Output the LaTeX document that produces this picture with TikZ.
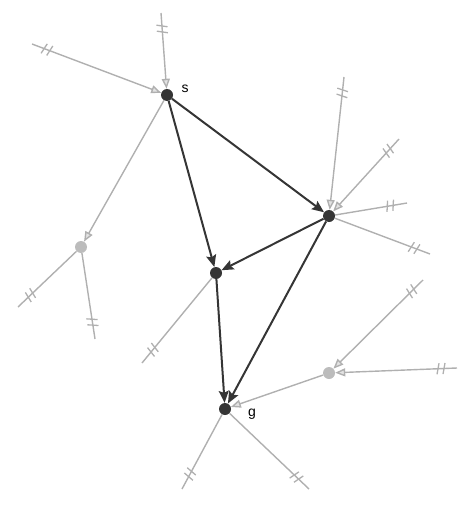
\documentclass[tikz,border=0pt]{standalone}
\usepackage{fontspec}
\setsansfont{Liberation Sans}
\usetikzlibrary{arrows.meta,decorations.markings}
\definecolor{darkgr}{HTML}{353535}
\definecolor{lightgr}{HTML}{B0B0B0}
\tikzset{
  tick/.style={draw=lightgr,line width=1.3pt,-},
  cut start/.style={postaction={decorate},decoration={markings,
    mark=at position 13pt with {\draw[tick] (-1.2pt,-5.5pt) -- (1.2pt,5.5pt) (4.8pt,-5.5pt) -- (7.2pt,5.5pt);}}},
  cut end/.style={postaction={decorate},decoration={markings,
    mark=at position -20pt with {\draw[tick] (-1.2pt,-5.5pt) -- (1.2pt,5.5pt) (4.8pt,-5.5pt) -- (7.2pt,5.5pt);}}}
}
\begin{document}
\begin{tikzpicture}[x=1pt,y=-1pt,
  main node/.style={circle,fill=darkgr,inner sep=0pt,minimum size=12pt},
  side node/.style={circle,fill=lightgr!85,inner sep=0pt,minimum size=12pt},
  dark edge/.style={draw=darkgr,line width=2pt,-{Stealth[length=12pt,width=10pt,inset=2pt]}},
  gray edge/.style={draw=lightgr,line width=1.4pt},
  gray arrow/.style={gray edge,-{Triangle[open,length=10pt,width=8pt,fill=lightgr!35]}},
  lbl/.style={font=\sffamily\fontsize{14}{14}\selectfont,text=black}]

  \useasboundingbox (0,0) rectangle (474,513);

  % nodes
  \node[main node] (s) at (167,95) {};
  \node[main node] (a) at (329,216) {};
  \node[main node] (b) at (216,273) {};
  \node[main node] (g) at (225,409) {};
  \node[side node] (l) at (81,247) {};
  \node[side node] (r) at (329,373) {};

  \node[lbl] (sl) at (185,89) {s};
  \node[lbl] (gl) at (252,414) {g};

  % free ends
  \coordinate (s1) at (32,44);
  \coordinate (s2) at (161,13);
  \coordinate (l1) at (18,307);
  \coordinate (l2) at (95,339);
  \coordinate (a1) at (344,77);
  \coordinate (a2) at (399,139);
  \coordinate (a3) at (407,203);
  \coordinate (a4) at (430,254);
  \coordinate (b1) at (142,363);
  \coordinate (r1) at (423,280);
  \coordinate (r2) at (457,368);
  \coordinate (g1) at (182,489);
  \coordinate (g2) at (309,489);

  \path
   (s1) edge[gray arrow,cut start] (s)
   (s2) edge[gray arrow,cut start] (s)
   (s) edge[gray arrow] (l)
   (l) edge[gray edge,cut end] (l1)
   (l) edge[gray edge,cut end] (l2)
   (a1) edge[gray arrow,cut start] (a)
   (a2) edge[gray arrow,cut start] (a)
   (a) edge[gray edge,cut end] (a3)
   (a) edge[gray edge,cut end] (a4)
   (b) edge[gray edge,cut end] (b1)
   (r1) edge[gray arrow,cut start] (r)
   (r2) edge[gray arrow,cut start] (r)
   (r) edge[gray arrow] (g)
   (g) edge[gray edge,cut end] (g1)
   (g) edge[gray edge,cut end] (g2);

  \path
   (s) edge[dark edge] (a)
   (s) edge[dark edge] (b)
   (a) edge[dark edge] (b)
   (b) edge[dark edge] (g)
   (a) edge[dark edge] (g);
\end{tikzpicture}
\end{document}
